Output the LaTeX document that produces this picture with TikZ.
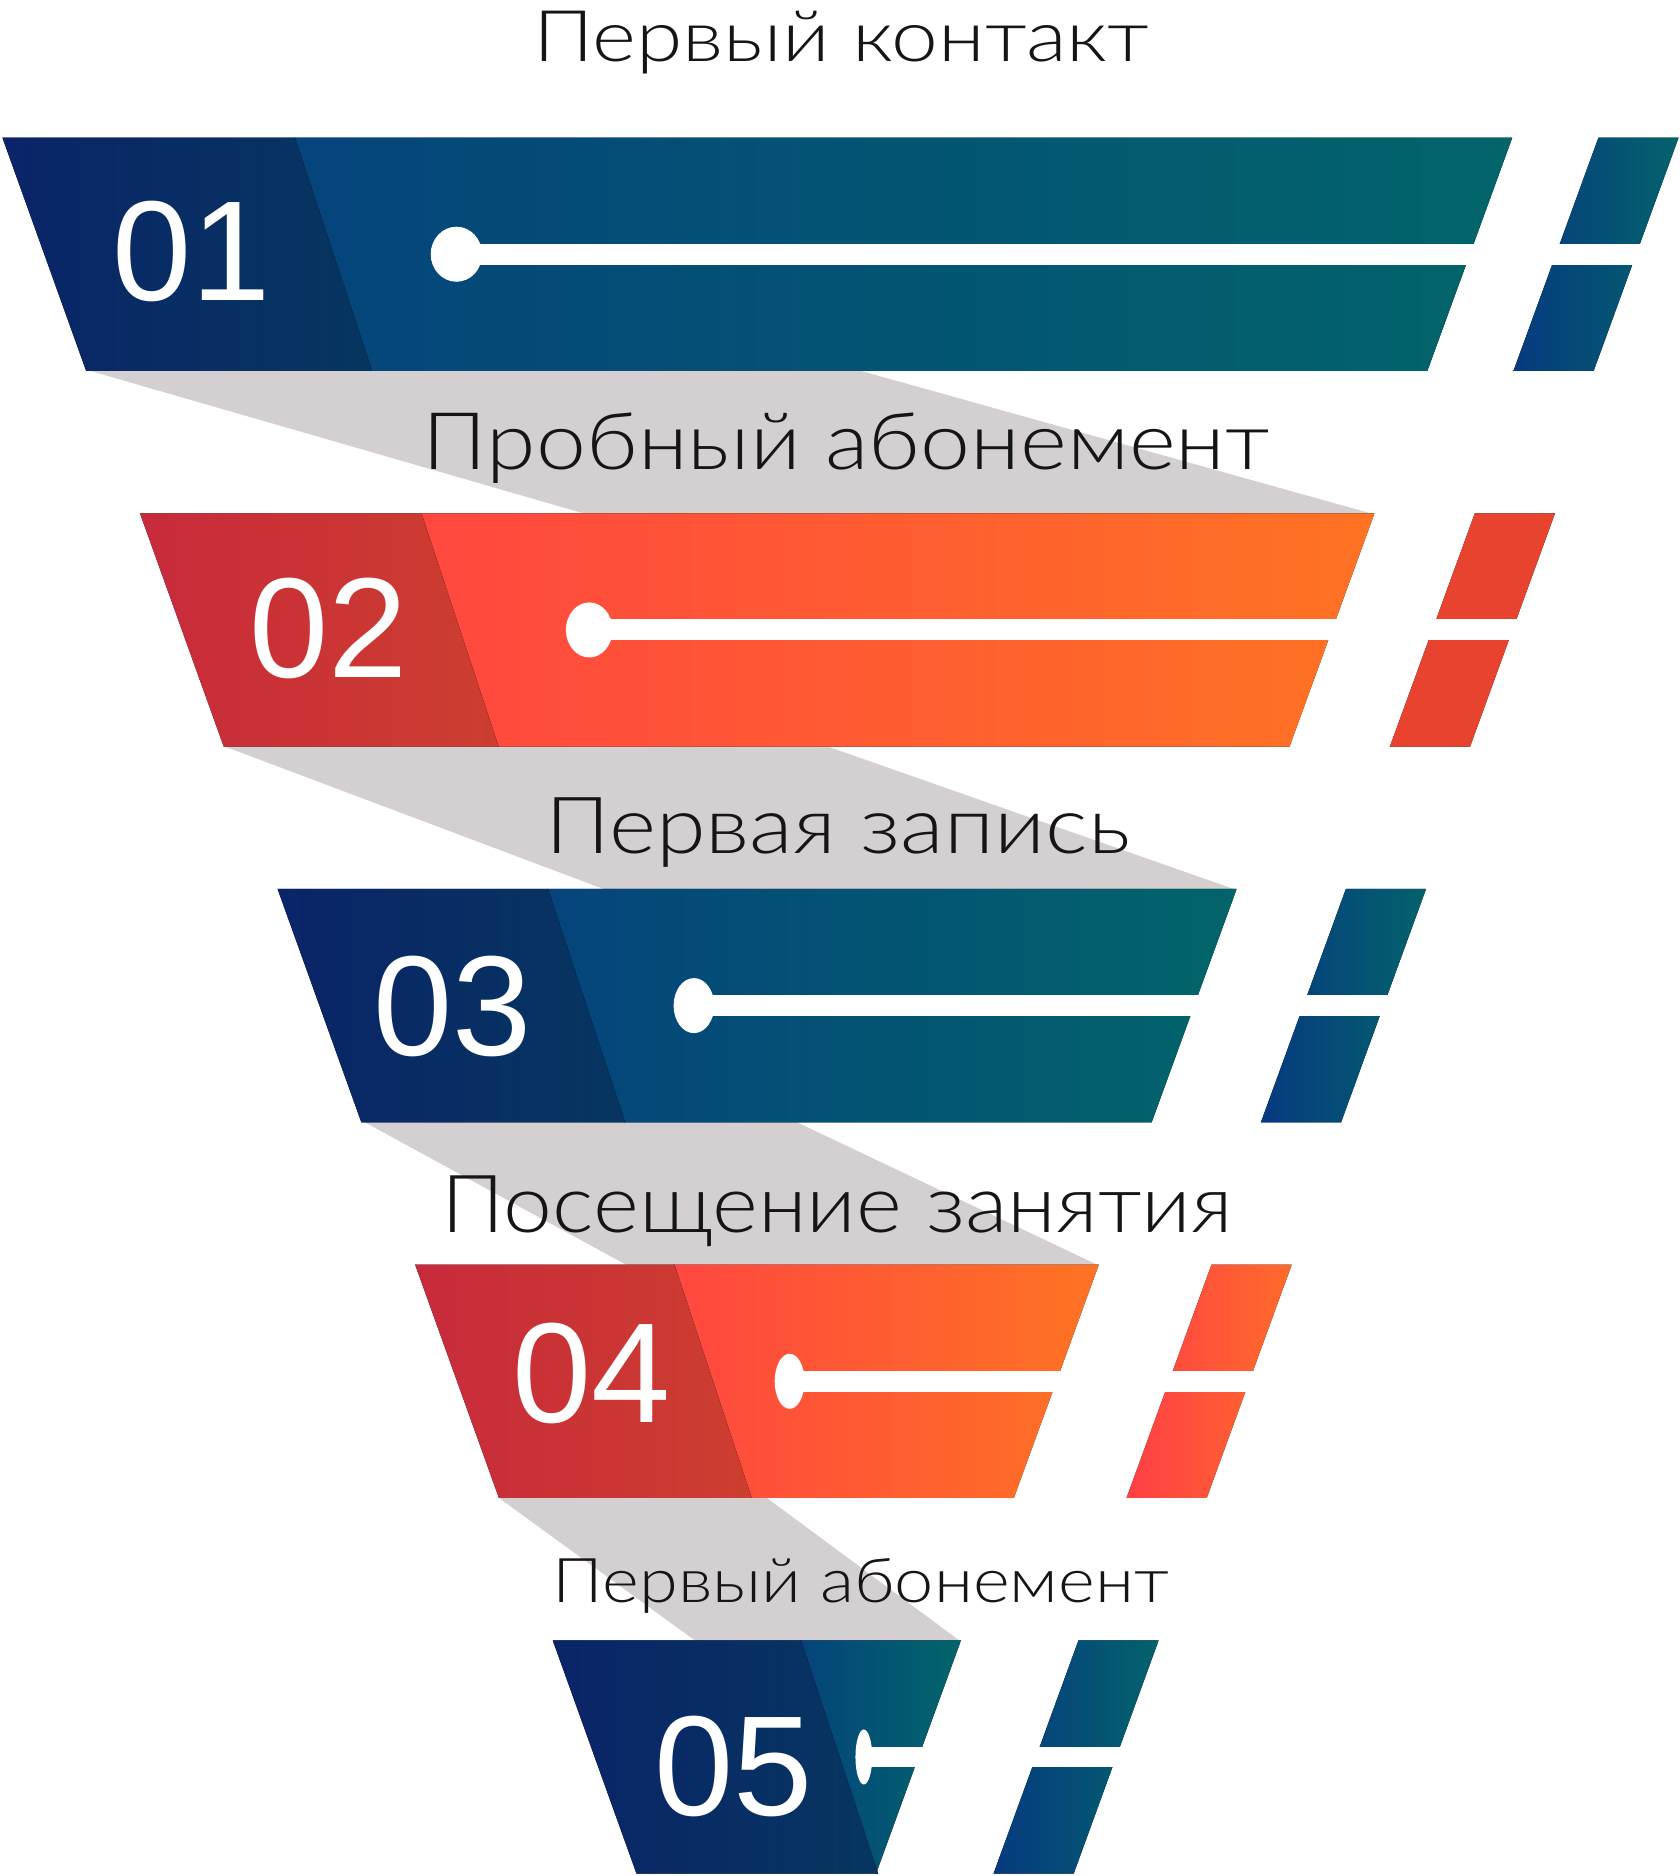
\documentclass[tikz,border=0pt]{standalone}
\usepackage{fontspec}
\setmainfont{Lato Light}
\newfontfamily\digitfont{Liberation Sans}
\definecolor{shadowgray}{HTML}{D4CFD0}
\definecolor{bpl}{HTML}{0A2468}
\definecolor{bpr}{HTML}{063660}
\definecolor{bml}{HTML}{05447C}
\definecolor{bmr}{HTML}{02656A}
\definecolor{bql}{HTML}{063A80}
\definecolor{bqr}{HTML}{03626B}
\definecolor{rpl}{HTML}{C82A3B}
\definecolor{rpr}{HTML}{CD3E2F}
\definecolor{rml}{HTML}{FF473F}
\definecolor{rmr}{HTML}{FF7323}
\definecolor{rqa}{HTML}{E8432F}
\definecolor{rql}{HTML}{FF3F45}
\definecolor{rqr}{HTML}{FF6B2B}
\definecolor{labeltext}{HTML}{151515}
\begin{document}
\begin{tikzpicture}[x=1pt,y=-1pt,
  shadowband/.style={fill=shadowgray},
  numlabel/.style={anchor=base west, inner sep=0pt, text=white,
     font=\digitfont\fontsize{119}{119}\selectfont},
  steplabel/.style={anchor=base, inner sep=0pt, text=labeltext}]
\useasboundingbox (0,0) rectangle (1404,1568);
% grey connecting bands
\fill[shadowband] (72,309) -- (716,309) -- (1149,430) -- (491,430) -- cycle;
\fill[shadowband] (188,624) -- (692,624) -- (1034,744) -- (507,744) -- cycle;
\fill[shadowband] (303,937) -- (664,937) -- (919,1058) -- (525,1058) -- cycle;
\fill[shadowband] (417,1252) -- (641,1252) -- (803,1372) -- (582,1372) -- cycle;
% bars
\foreach \i/\pa/\pb/\ma/\mb/\qa/\qb/\qx/\cx/\rx in {
  0/bpl/bpr/bml/bmr/bql/bqr/1336/381.5/21.5,
  1/rpl/rpr/rml/rmr/rqa/rqa/1232.7/492.5/19.5,
  2/bpl/bpr/bml/bmr/bql/bqr/1124.9/580/17,
  3/rpl/rpr/rml/rmr/rql/rqr/1012.6/660/12.5,
  4/bpl/bpr/bml/bmr/bql/bqr/901.4/722/7}
{
  \pgfmathsetmacro\ty{115+314*\i}
  \pgfmathsetmacro\by{\ty+195}
  \pgfmathsetmacro\L{2+115*\i}
  \pgfmathsetmacro\R{1264-115.2*\i}
  \pgfmathsetmacro\P{246+105.75*\i}
  \pgfmathsetmacro\cy{\ty+97.5}
  \fill[left color=\ma, right color=\mb] (\P,\ty) -- (\R,\ty) -- (\R-71,\by) -- (\P+64.5,\by) -- cycle;
  \fill[left color=\pa, right color=\pb] (\L,\ty) -- (\P+0.5,\ty) -- (\P+65,\by) -- (\L+70,\by) -- cycle;
  \fill[left color=\qa, right color=\qb] (\qx,\ty) -- (\qx+67,\ty) -- (\qx-4,\by) -- (\qx-71,\by) -- cycle;
  \fill[white] (\cx,\cy-8.75) rectangle (\qx+45,\cy+8.75);
  \fill[white] (\cx,\cy) ellipse [x radius=\rx, y radius=23];
}
% numbers
\node[numlabel] (n1) at (93.5,251) {01};
\node[numlabel] (n2) at (208,566) {02};
\node[numlabel] (n3) at (312,882) {03};
\node[numlabel] (n4) at (428,1189) {04};
\node[numlabel] (n5) at (546.5,1517) {05};
% step labels
\node[steplabel] (t1) at (703,51.6) {\resizebox{515pt}{\height}{\fontsize{59.5}{60}\selectfont Первый контакт}};
\node[steplabel] (t2) at (707.3,392.3) {\resizebox{708pt}{\height}{\fontsize{66.4}{67}\selectfont Пробный абонемент}};
\node[steplabel] (t3) at (700.3,713) {\resizebox{489pt}{\height}{\fontsize{65.9}{66}\selectfont Первая запись}};
\node[steplabel] (t4) at (699.8,1030) {\resizebox{661pt}{\height}{\fontsize{67}{67}\selectfont Посещение занятия}};
\node[steplabel] (t5) at (719.5,1339) {\resizebox{515pt}{\height}{\fontsize{51.6}{52}\selectfont Первый абонемент}};
\end{tikzpicture}
\end{document}
